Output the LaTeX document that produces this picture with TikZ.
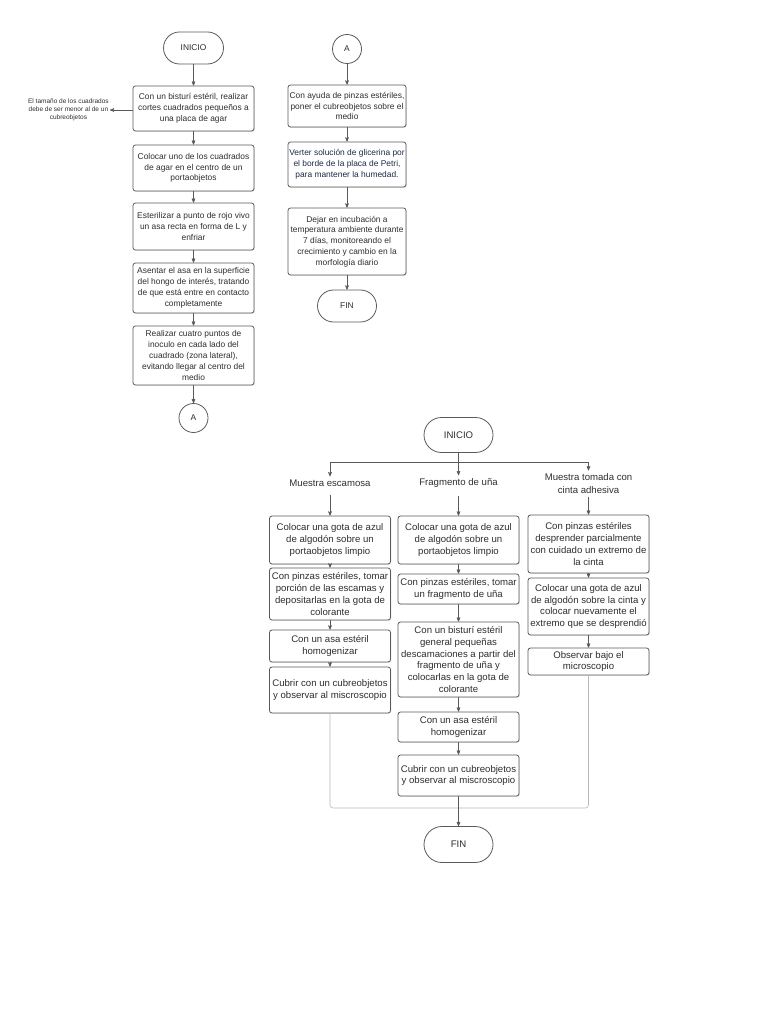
\documentclass[tikz,border=0pt]{standalone}
\usepackage{fontspec}
\setmainfont{Liberation Sans}
\usepackage{xcolor}
\usetikzlibrary{arrows,shadows}

\definecolor{boxline}{HTML}{5A5A5A}
\definecolor{boxtext}{HTML}{2E2E2E}
\definecolor{navytext}{HTML}{1C2A48}

\begin{document}
\begin{tikzpicture}[x=1pt, y=-1pt, ->, >=stealth', line width=0.6pt, color=boxline,
    box/.style={rectangle, rounded corners=2.5pt, draw=boxline, line width=0.8pt, fill=white,
                align=center, inner sep=1pt, text=boxtext,
                drop shadow={shadow xshift=0.8pt, shadow yshift=-0.9pt, opacity=0.2}},
    top box/.style={box, font=\fontsize{8.4}{10.8}\selectfont, minimum width=121pt},
    low box/.style={box, font=\fontsize{9.6}{11.8}\selectfont, minimum width=121pt},
    top end/.style={rectangle, rounded corners=16pt, draw=boxline, line width=0.8pt, fill=white,
                    minimum width=60pt, minimum height=32pt, text=boxtext, font=\fontsize{8.4}{10}\selectfont},
    low end/.style={rectangle, rounded corners=18pt, draw=boxline, line width=0.8pt, fill=white,
                    minimum width=69pt, minimum height=36pt, text=boxtext, font=\fontsize{9.6}{11}\selectfont},
    link node/.style={circle, draw=boxline, line width=0.8pt, fill=white, minimum size=29pt,
                      inner sep=0pt, text=boxtext, font=\fontsize{8.4}{10}\selectfont},
    branch label/.style={align=center, inner sep=3pt, text=boxtext, font=\fontsize{9.6}{12.5}\selectfont}]

  \useasboundingbox (0,0) rectangle (768,1024);

  % first part of the procedure
  \node[top end] (I1) at (193.5,48) {INICIO};
  \node[top box, minimum height=45pt] (L1) at (193.5,108.5)
    {Con un bisturí estéril, realizar\\cortes cuadrados pequeños a\\una placa de agar};
  \node[top box, minimum height=46pt] (L2) at (193.5,168)
    {Colocar uno de los cuadrados\\de agar en el centro de un\\portaobjetos};
  \node[top box, minimum height=47pt] (L3) at (193.5,226.5)
    {Esterilizar a punto de rojo vivo\\un asa recta en forma de L y\\enfriar};
  \node[top box, minimum height=50pt] (L4) at (193.5,288)
    {Asentar el asa en la superficie\\del hongo de interés, tratando\\de que está entre en contacto\\completamente};
  \node[top box, minimum height=59pt] (L5) at (193.5,355.5)
    {Realizar cuatro puntos de\\inoculo en cada lado del\\cuadrado (zona lateral),\\evitando llegar al centro del\\medio};
  \node[link node] (A1) at (193.5,418) {A};
  \node[align=center, inner sep=1pt, text=boxtext, font=\fontsize{6.5}{7.8}\selectfont,
        anchor=east] (N1) at (110,110)
    {El tamaño de los cuadrados\\debe de ser menor al de un\\cubreobjetos};

  \draw (I1) -- (L1);
  \draw (L1) -- (L2);
  \draw (L2) -- (L3);
  \draw (L3) -- (L4);
  \draw (L4) -- (L5);
  \draw (L5) -- (A1);
  \draw (L1.west |- N1) -- (N1);

  % continuation
  \node[link node] (A2) at (347,49) {A};
  \node[top box, minimum width=118pt, minimum height=42pt] (R1) at (347,106)
    {Con ayuda de pinzas estériles,\\poner el cubreobjetos sobre el\\medio};
  \node[top box, minimum width=118pt, minimum height=45pt, text=navytext] (R2) at (347,164.5)
    {Verter solución de glicerina por\\el borde de la placa de Petri,\\para mantener la humedad.};
  \node[top box, minimum width=118pt, minimum height=67pt] (R3) at (347,241.5)
    {Dejar en incubación a\\temperatura ambiente durante\\7 días, monitoreando el\\crecimiento y cambio en la\\morfología diario};
  \node[top end, minimum width=59pt] (F1) at (347,306) {FIN};

  \draw (A2) -- (R1);
  \draw (R1) -- (R2);
  \draw (R2) -- (R3);
  \draw (R3) -- (F1);

  % three kinds of sample
  \node[low end, minimum height=35pt, rounded corners=17.5pt] (I2) at (458.5,435) {INICIO};
  \coordinate (br) at (458.5,462);
  \node[branch label] (E0) at (330,483) {Muestra escamosa};
  \node[branch label] (U0) at (458.5,483) {Fragmento de uña};
  \node[branch label] (C0) at (588.5,483.5) {Muestra tomada con\\cinta adhesiva};

  \draw[-] (I2) -- (br);
  \draw[-] (E0 |- br) -- (C0 |- br);
  \draw (E0 |- br) -- (E0);
  \draw (br) -- (U0);
  \draw (C0 |- br) -- (C0);

  \node[low box, minimum height=48pt] (E1) at (330,540)
    {Colocar una gota de azul\\de algodón sobre un\\portaobjetos limpio};
  \node[low box, minimum height=52pt] (E2) at (330,594)
    {Con pinzas estériles, tomar\\porción de las escamas y\\depositarlas en la gota de\\colorante};
  \node[low box, minimum height=32pt] (E3) at (330,646)
    {Con un asa estéril\\homogenizar};
  \node[low box, minimum height=46pt] (E4) at (330,690)
    {Cubrir con un cubreobjetos\\y observar al miscroscopio};

  \node[low box, minimum height=48pt] (U1) at (458.5,540)
    {Colocar una gota de azul\\de algodón sobre un\\portaobjetos limpio};
  \node[low box, minimum height=30pt] (U2) at (458.5,589)
    {Con pinzas estériles, tomar\\un fragmento de uña};
  \node[low box, minimum height=75pt] (U3) at (458.5,659.5)
    {Con un bisturí estéril\\general pequeñas\\descamaciones a partir del\\fragmento de uña y\\colocarlas en la gota de\\colorante};
  \node[low box, minimum height=30pt] (U4) at (458.5,727)
    {Con un asa estéril\\homogenizar};
  \node[low box, minimum height=41pt] (U5) at (458.5,775.5)
    {Cubrir con un cubreobjetos\\y observar al miscroscopio};

  \node[low box, minimum height=58pt] (C1) at (588.5,544)
    {Con pinzas estériles\\desprender parcialmente\\con cuidado un extremo de\\la cinta};
  \node[low box, minimum height=57pt] (C2) at (588.5,606.5)
    {Colocar una gota de azul\\de algodón sobre la cinta y\\colocar nuevamente el\\extremo que se desprendió};
  \node[low box, minimum height=27pt] (C3) at (588.5,661.5)
    {Observar bajo el\\microscopio};

  \node[low end] (F2) at (458.5,844.5) {FIN};
  \coordinate (mg) at (458.5,808);

  \draw[shorten <=5pt] (E0) -- (E1);
  \draw[shorten <=5pt] (U0) -- (U1);
  \draw (C0) -- (C1);
  \draw (E1) -- (E2);
  \draw (E2) -- (E3);
  \draw (E3) -- (E4);
  \draw (U1) -- (U2);
  \draw (U2) -- (U3);
  \draw (U3) -- (U4);
  \draw (U4) -- (U5);
  \draw (C1) -- (C2);
  \draw (C2) -- (C3);
  \draw[-, gray!55, rounded corners=3pt] (E4) |- (mg) -| (C3);
  \draw (U5) -- (F2);
\end{tikzpicture}
\end{document}
